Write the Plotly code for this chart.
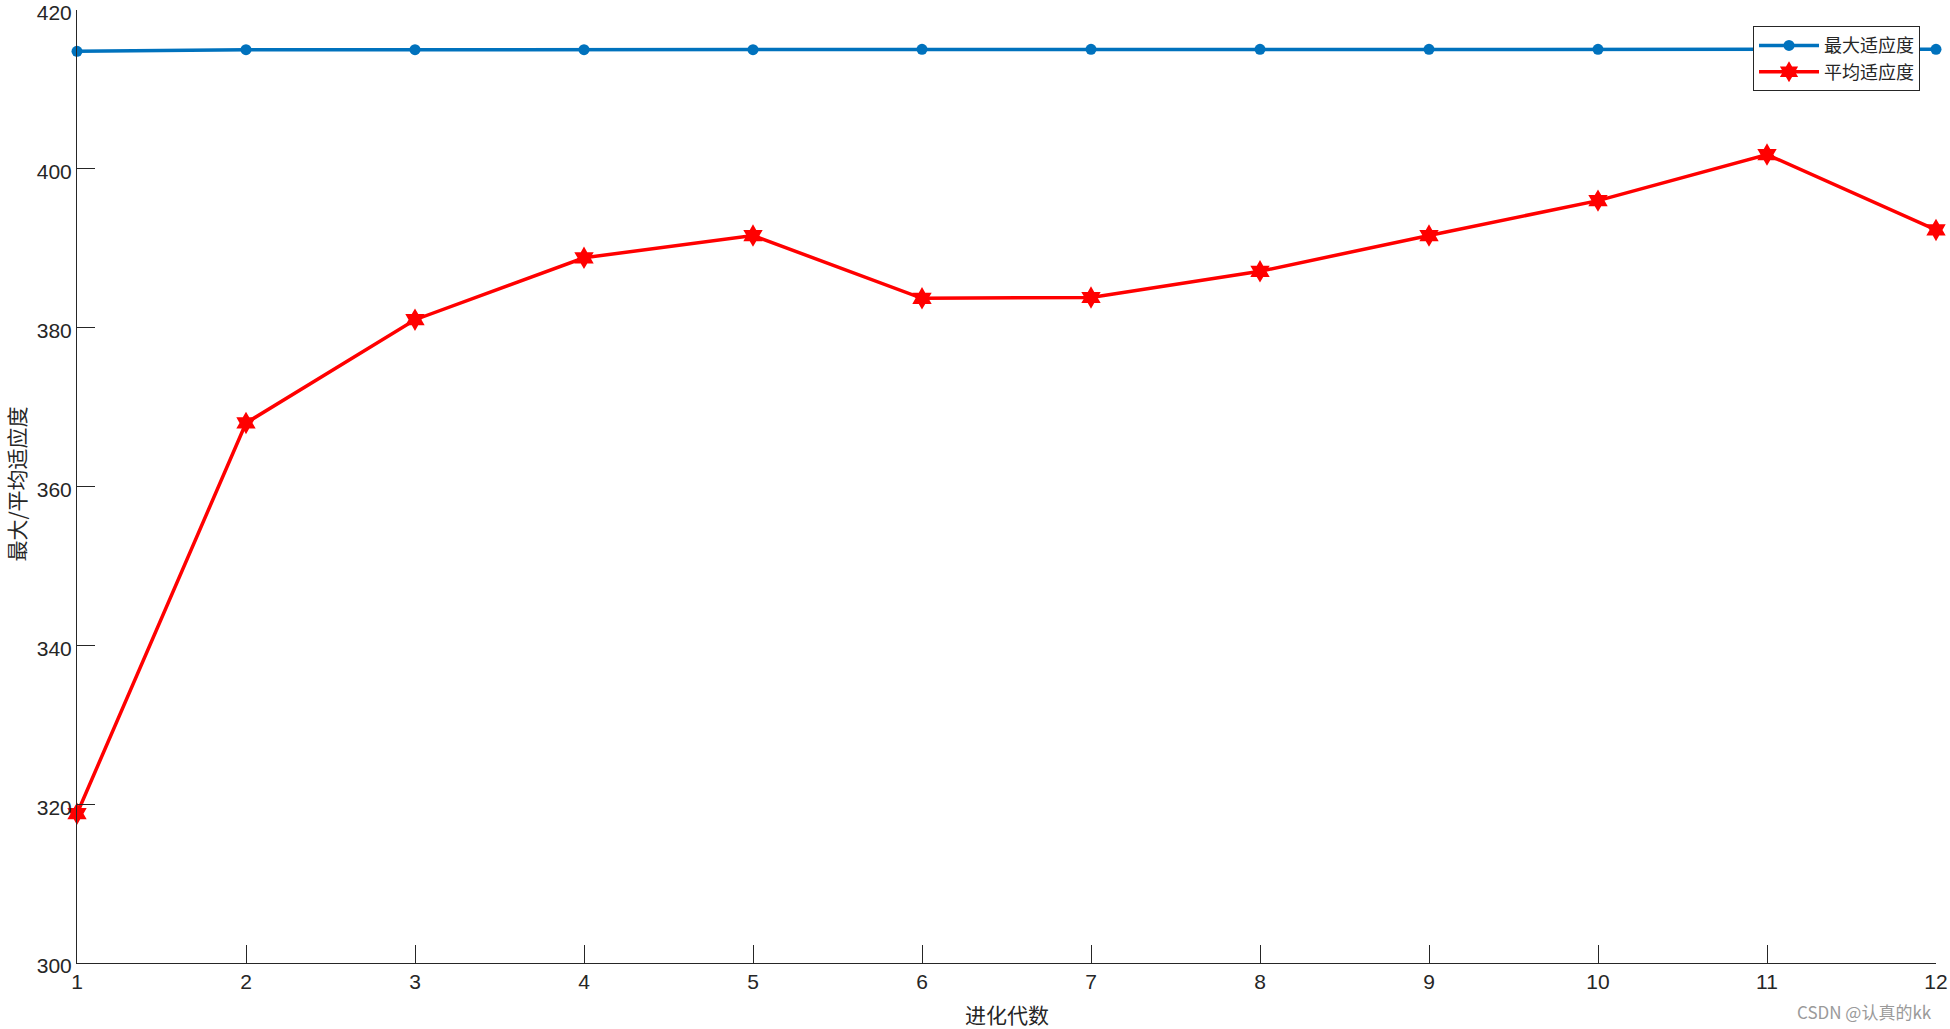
import plotly.graph_objects as go

generations = [1, 2, 3, 4, 5, 6, 7, 8, 9, 10, 11, 12]
max_fitness = [414.8, 415.0, 415.0, 415.0, 415.0, 415.05, 415.05, 415.05, 415.05, 415.05, 415.05, 415.05]
avg_fitness = [318.8, 368.0, 381.0, 388.8, 391.6, 383.7, 383.8, 387.1, 391.6, 396.0, 401.8, 392.3]

x_ticks = list(range(1, 13))
y_ticks = [300, 320, 340, 360, 380, 400, 420]

CJK = "SimSun, 'Noto Sans CJK SC', serif"
TICK_FONT = "Arial, 'Liberation Sans', sans-serif"
INK = "#262626"

fig = go.Figure()
fig.add_trace(go.Scatter(
    x=generations, y=max_fitness, name="最大适应度", mode="lines+markers",
    line=dict(color="#0072BD", width=3.5),
    marker=dict(symbol="circle", size=11, color="#0072BD"),
    cliponaxis=False,
))
fig.add_trace(go.Scatter(
    x=generations, y=avg_fitness, name="平均适应度", mode="lines+markers",
    line=dict(color="#FF0000", width=3.5),
    marker=dict(symbol="hexagram", size=17, color="#FF0000"),
    cliponaxis=False,
))

axis_common = dict(
    showgrid=False, zeroline=False, showline=True, linecolor=INK, linewidth=1,
    ticks="inside", ticklen=18, tickwidth=1, tickcolor=INK, automargin=False,
    ticklabeloverflow="allow",
    tickfont=dict(family=TICK_FONT, size=21, color=INK),
)
fig.update_xaxes(range=[1, 12], tickvals=x_ticks, **axis_common)
# nudge y labels down a touch so the top "420" stays inside the page
fig.update_yaxes(range=[300, 420], tickvals=y_ticks, ticklabelshift=3, **axis_common)

fig.update_layout(
    width=1950, height=1029,
    margin=dict(l=77, r=14, t=10, b=66),
    plot_bgcolor="white", paper_bgcolor="white",
    showlegend=True,
    legend=dict(
        x=0.9914, y=0.983, xanchor="right", yanchor="top",
        bgcolor="white", bordercolor=INK, borderwidth=1,
        font=dict(family=CJK, size=18, color=INK),
        tracegroupgap=0, itemwidth=60,
    ),
    annotations=[
        dict(text="进化代数", xref="paper", yref="paper", x=0.5, y=-0.0535,
             xanchor="center", yanchor="middle", showarrow=False,
             font=dict(family=CJK, size=21, color=INK)),
        dict(text="最大/平均适应度", xref="paper", yref="paper", x=-0.0328, y=0.502,
             xanchor="center", yanchor="middle", showarrow=False, textangle=-90,
             font=dict(family=CJK, size=21, color=INK)),
        dict(text="CSDN @认真的kk", xref="paper", yref="paper", x=0.9989, y=-0.0504,
             xanchor="right", yanchor="middle", showarrow=False,
             font=dict(family="'Noto Sans CJK SC', sans-serif", size=17, color="#9a9a9a")),
    ],
)

fig.write_html("out.html", config={"displayModeBar": False},
               post_script="document.body.style.margin='0';")
